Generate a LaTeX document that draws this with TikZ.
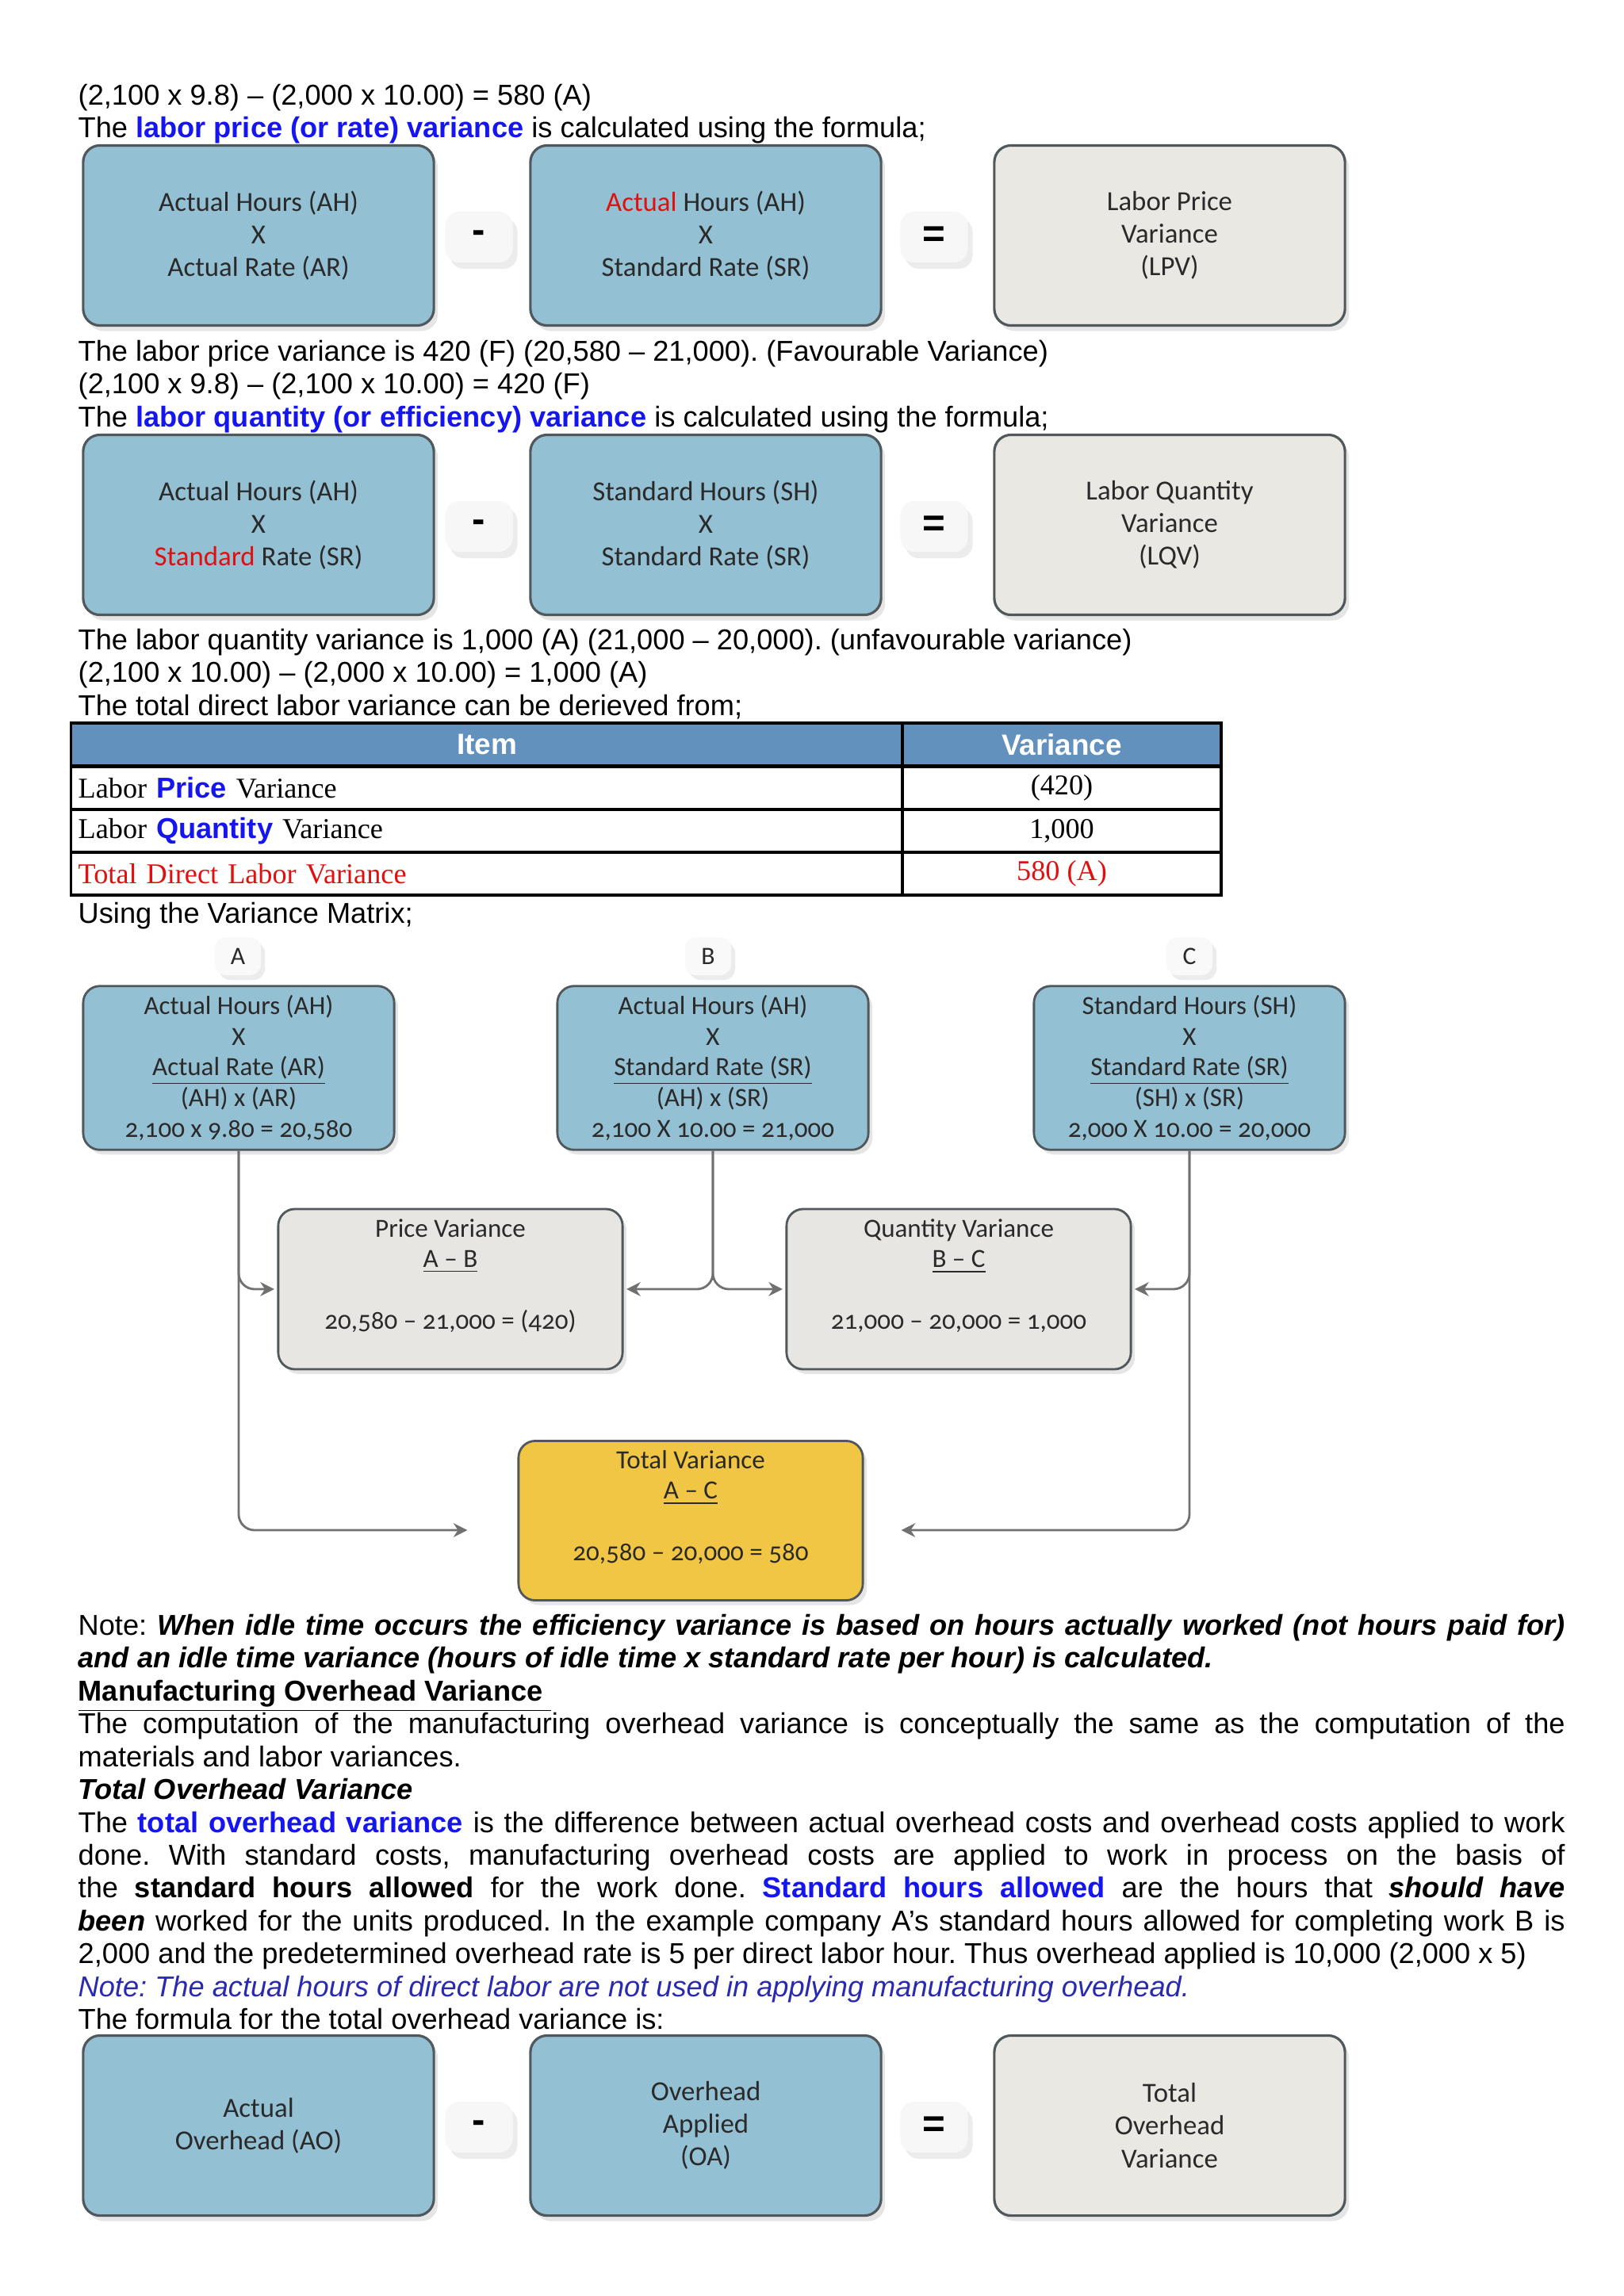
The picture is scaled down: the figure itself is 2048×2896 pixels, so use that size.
\documentclass[tikz,border=0pt]{standalone}
\usepackage{fontspec}
\setmainfont{Liberation Sans}
\newfontfamily\tabserif{Liberation Serif}
\newfontfamily\boxfam[Numbers=OldStyle]{Carlito}
\usepackage{tikz}
\usetikzlibrary{arrows.meta,positioning,shadows}

\definecolor{boxblue}{HTML}{93C0D3}
\definecolor{boxgrey}{HTML}{EAE8E2}
\definecolor{matgrey}{HTML}{E7E6E2}
\definecolor{totyellow}{HTML}{F2C645}
\definecolor{boxline}{HTML}{50585C}
\definecolor{hdrblue}{HTML}{6391BD}
\definecolor{keyblue}{HTML}{1515F0}
\definecolor{noteblue}{HTML}{2A2AB0}
\definecolor{keyred}{HTML}{E01010}
\definecolor{linkgrey}{HTML}{707070}
\definecolor{boxtext}{HTML}{2A2A2A}

\newcommand{\bodyfont}{\frenchspacing\fontsize{10.3pt}{11.8pt}\selectfont}
\newcommand{\formfont}{\boxfam\fontsize{9.9pt}{11.7pt}\selectfont}
\newcommand{\matfont}{\boxfam\fontsize{9.4pt}{11pt}\selectfont}
\newcommand{\kw}[1]{\textcolor{keyblue}{\bfseries #1}}

\tikzset{
  txt/.style={anchor=base west, inner sep=0pt, font=\bodyfont, text width=18.74cm, align=justify},
  formbox/.style={draw=boxline, line width=0.9pt, rounded corners=6pt, minimum width=4.42cm,
    minimum height=2.27cm, align=center, font=\formfont, text=boxtext,
    drop shadow={shadow xshift=0.05cm, shadow yshift=-0.07cm, opacity=0.2}},
  bluebox/.style={formbox, fill=boxblue},
  greybox/.style={formbox, fill=boxgrey},
  opbox/.style={fill=gray!6, rounded corners=5pt, minimum width=0.85cm, minimum height=0.64cm,
    font=\bfseries\fontsize{14pt}{14pt}\selectfont,
    drop shadow={shadow xshift=0.06cm, shadow yshift=-0.08cm, opacity=0.15}},
  matbox/.style={draw=boxline, line width=0.8pt, rounded corners=6pt, minimum width=3.92cm,
    minimum height=2.03cm, align=center, font=\matfont, text=boxtext, fill=boxblue,
    drop shadow={shadow xshift=0.05cm, shadow yshift=-0.06cm, opacity=0.2}},
  varbox/.style={matbox, fill=matgrey, minimum width=4.34cm, minimum height=2.02cm},
  tag/.style={fill=gray!5, rounded corners=4pt, minimum width=0.58cm, minimum height=0.48cm,
    font=\boxfam\fontsize{9pt}{9pt}\selectfont, text=boxtext,
    drop shadow={shadow xshift=0.05cm, shadow yshift=-0.06cm, opacity=0.15}},
  link/.style={draw=linkgrey, line width=0.8pt, rounded corners=0.2cm, ->},
  cell/.style={draw=black, line width=1pt, minimum height=0.54cm, inner ysep=0pt},
  hdcell/.style={cell, fill=hdrblue, text=white, font=\bfseries\fontsize{10.5pt}{12pt}\selectfont},
  lcell/.style={cell, minimum width=10.48cm, text width=10.3cm, inner xsep=0.09cm, align=left,
    font=\tabserif\fontsize{10.3pt}{12pt}\selectfont},
  rcell/.style={cell, minimum width=4.02cm, font=\tabserif\fontsize{10.3pt}{12pt}\selectfont}
}

\begin{document}
\begin{tikzpicture}[x=0.01cm, y=-0.01cm, >={Stealth[length=5pt,width=5pt]}]
\useasboundingbox (0,0) rectangle (2048,2896);
\fill[white] (0,0) rectangle (2048,2896);

% labor price variance
\node[txt] (intro) at (98,132) {(2,100 x 9.8) – (2,000 x 10.00) = 580 (A)\\
The \kw{labor price (or rate) variance} is calculated using the formula;};

\node[bluebox] (ahar) at (326,297) {Actual Hours (AH)\\X\\Actual Rate (AR)};
\node[opbox] (minus1) at (604,299) {-};
\node[bluebox] (ahsr) at (890,297) {\textcolor{keyred}{Actual} Hours (AH)\\X\\Standard Rate (SR)};
\node[opbox] (equals1) at (1178,299) {=};
\node[greybox] (lpv) at (1475,297) {Labor Price\\Variance\\(LPV)};

% labor quantity variance
\node[txt] (pricetxt) at (98,455) {The labor price variance is 420 (F) (20,580 – 21,000). (Favourable Variance)\\
(2,100 x 9.8) – (2,100 x 10.00) = 420 (F)\\
The \kw{labor quantity (or efficiency) variance} is calculated using the formula;};

\node[bluebox] (ahsr2) at (326,662) {Actual Hours (AH)\\X\\\textcolor{keyred}{Standard} Rate (SR)};
\node[opbox] (minus2) at (604,664) {-};
\node[bluebox] (shsr) at (890,662) {Standard Hours (SH)\\X\\Standard Rate (SR)};
\node[opbox] (equals2) at (1178,664) {=};
\node[greybox] (lqv) at (1475,662) {Labor Quantity\\Variance\\(LQV)};

% total direct labor variance table
\node[txt] (qtytxt) at (98,819) {The labor quantity variance is 1,000 (A) (21,000 – 20,000). (unfavourable variance)\\
(2,100 x 10.00) – (2,000 x 10.00) = 1,000 (A)\\
The total direct labor variance can be derieved from;};

\node[hdcell, minimum width=10.48cm] (hdItem) at (614,939) {Item};
\node[hdcell, minimum width=4.02cm] (hdVar) at (1339,939) {Variance};
\node[lcell] (itPrice) at (614,994) {Labor {\rmfamily\bfseries\color{keyblue}Price} Variance};
\node[rcell] (vaPrice) at (1339,994) {(420)};
\node[lcell] (itQty) at (614,1048) {Labor {\rmfamily\bfseries\color{keyblue}Quantity} Variance};
\node[rcell] (vaQty) at (1339,1048) {1,000};
\node[lcell, text=keyred] (itTotal) at (614,1102) {Total Direct Labor Variance};
\node[rcell, text=keyred] (vaTotal) at (1339,1102) {580 (A)};

% variance matrix
\node[txt] (matrixtxt) at (98,1164) {Using the Variance Matrix;};

\node[tag] (tagA) at (300,1206) {A};
\node[tag] (tagB) at (893,1206) {B};
\node[tag] (tagC) at (1500,1206) {C};

\node[matbox] (matA) at (301,1347) {Actual Hours (AH)\\X\\\underline{Actual Rate (AR)}\\(AH) x (AR)\\2,100 x 9.80 = 20,580};
\node[matbox] (matB) at (899,1347) {Actual Hours (AH)\\X\\\underline{Standard Rate (SR)}\\(AH) x (SR)\\2,100 X 10.00 = 21,000};
\node[matbox] (matC) at (1500,1347) {Standard Hours (SH)\\X\\\underline{Standard Rate (SR)}\\(SH) x (SR)\\2,000 X 10.00 = 20,000};

\node[varbox] (price) at (568,1626) {Price Variance\\\underline{A – B}\\\mbox{}\\20,580 – 21,000 = (420)\\\mbox{}};
\node[varbox] (qty) at (1209,1626) {Quantity Variance\\\underline{B – C}\\\mbox{}\\21,000 – 20,000 = 1,000\\\mbox{}};
\node[varbox, fill=totyellow, minimum height=1.98cm] (total) at (871,1918) {Total Variance\\\underline{A – C}\\\mbox{}\\20,580 – 20,000 = 580\\\mbox{}};

\draw[link, shorten >=0.63cm] (matA.south) |- ([yshift=-0.12cm]total.west);
\draw[link, shorten >=1pt] (matA.south) |- (price.west);
\draw[link, shorten >=1pt] (matB.south) |- (price.east);
\draw[link, shorten >=1pt] (matB.south) |- (qty.west);
\draw[link, shorten >=1pt] (matC.south) |- (qty.east);
\draw[link, shorten >=0.47cm] (matC.south) |- ([yshift=-0.12cm]total.east);

% manufacturing overhead
\node[txt] (notes) at (98,2062) {Note: {\bfseries\itshape When idle time occurs the efficiency variance is based on hours actually worked (not hours paid for)\linebreak
and an idle time variance (hours of idle time x standard rate per hour) is calculated.}\par
{\bfseries\underline{Manufacturing Overhead Variance\ }}\par
The computation of the manufacturing overhead variance is conceptually the same as the computation of the\linebreak
materials and labor variances.\par
{\bfseries\itshape Total Overhead Variance}\par
The \kw{total overhead variance} is the difference between actual overhead costs and overhead costs applied to work\linebreak
done. With standard costs, manufacturing overhead costs are applied to work in process on the basis of\linebreak
the {\bfseries standard hours allowed} for the work done. \kw{Standard hours allowed} are the hours that {\bfseries\itshape should have}\linebreak
{\bfseries\itshape been} worked for the units produced. In the example company A’s standard hours allowed for completing work B is\linebreak
2,000 and the predetermined overhead rate is 5 per direct labor hour. Thus overhead applied is 10,000 (2,000 x 5)\par
{\color{noteblue}\itshape Note: The actual hours of direct labor are not used in applying manufacturing overhead.}\par
The formula for the total overhead variance is:};

\node[bluebox] (ao) at (326,2681) {Actual\\Overhead (AO)};
\node[opbox] (minus3) at (604,2683) {-};
\node[bluebox] (oa) at (890,2681) {Overhead\\Applied\\(OA)};
\node[opbox] (equals3) at (1178,2683) {=};
\node[greybox] (tov) at (1475,2681) {Total\\Overhead\\Variance};
\end{tikzpicture}
\end{document}
